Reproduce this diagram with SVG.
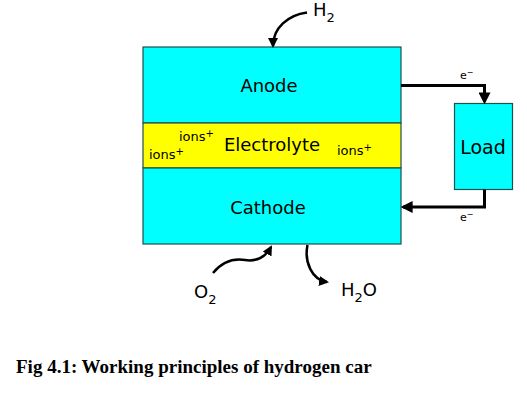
<svg xmlns="http://www.w3.org/2000/svg" width="527" height="402" viewBox="0 0 527 402">
<defs>
<marker id="ah" viewBox="0 0 10 10" refX="8" refY="5" markerWidth="4" markerHeight="4" orient="auto" markerUnits="strokeWidth">
<path d="M0,0 L10,5 L0,10 Z" fill="#000"/>
</marker>
<style>
.cell{stroke:#1f4f4f;stroke-width:1.2}
.cyan{fill:#00ffff}
.yel{fill:#ffff00}
.lbl{font-family:"DejaVu Sans",sans-serif;fill:#000}
.wire{fill:none;stroke:#000;stroke-width:3;marker-end:url(#ah)}
.curve{fill:none;stroke:#000;stroke-width:2.5;marker-end:url(#ah)}
.cap{font-family:"Liberation Serif",serif;font-weight:bold;font-size:19px;fill:#000}
</style>
</defs>
<rect width="527" height="402" fill="#fff"/>
<g id="anode">
<rect class="cell cyan" x="143" y="47" width="258" height="76"/>
<text class="lbl" x="269" y="92" font-size="18" text-anchor="middle">Anode</text>
</g>
<g id="electrolyte">
<rect class="cell yel" x="143" y="123" width="258" height="45"/>
<text class="lbl" x="272" y="151" font-size="18" text-anchor="middle">Electrolyte</text>
<text class="lbl" x="179" y="141" font-size="13">ions<tspan font-size="10" dy="-4">+</tspan></text>
<text class="lbl" x="149" y="159" font-size="13">ions<tspan font-size="10" dy="-4">+</tspan></text>
<text class="lbl" x="337" y="155" font-size="13">ions<tspan font-size="10" dy="-4">+</tspan></text>
</g>
<g id="cathode">
<rect class="cell cyan" x="143" y="168" width="258" height="76"/>
<text class="lbl" x="268" y="214" font-size="18" text-anchor="middle">Cathode</text>
</g>
<g id="load">
<rect class="cell cyan" x="454.5" y="103.5" width="58" height="86"/>
<text class="lbl" x="483" y="154" font-size="19" text-anchor="middle">Load</text>
</g>
<g id="h2">
<text class="lbl" x="313" y="16" font-size="18">H<tspan font-size="13" dy="6">2</tspan></text>
</g>
<g id="o2">
<text class="lbl" x="194" y="298" font-size="18">O<tspan font-size="13" dy="6">2</tspan></text>
</g>
<g id="h2o">
<text class="lbl" x="341" y="296" font-size="18">H<tspan font-size="13" dy="6">2</tspan><tspan dy="-6">O</tspan></text>
</g>
<g id="electrons">
<text class="lbl" x="460" y="79" font-size="11">e<tspan font-size="8" dy="-4">−</tspan></text>
<text class="lbl" x="460" y="221" font-size="11">e<tspan font-size="8" dy="-4">−</tspan></text>
</g>
<g id="connectors">
<path class="wire" d="M401,85.5 H484.5 V102"/>
<path class="wire" d="M484.5,189.5 V207 H403"/>
<path class="curve" d="M307,12.5 C288,15 273,28 273,46"/>
<path class="curve" d="M213,273 C222,262 232,258 245,260 C258,262 266,256 271,247"/>
<path class="curve" d="M307.5,245 C304,262 312,280 327,282"/>
</g>
<text class="cap" x="16" y="373">Fig 4.1: Working principles of hydrogen car</text>
</svg>
